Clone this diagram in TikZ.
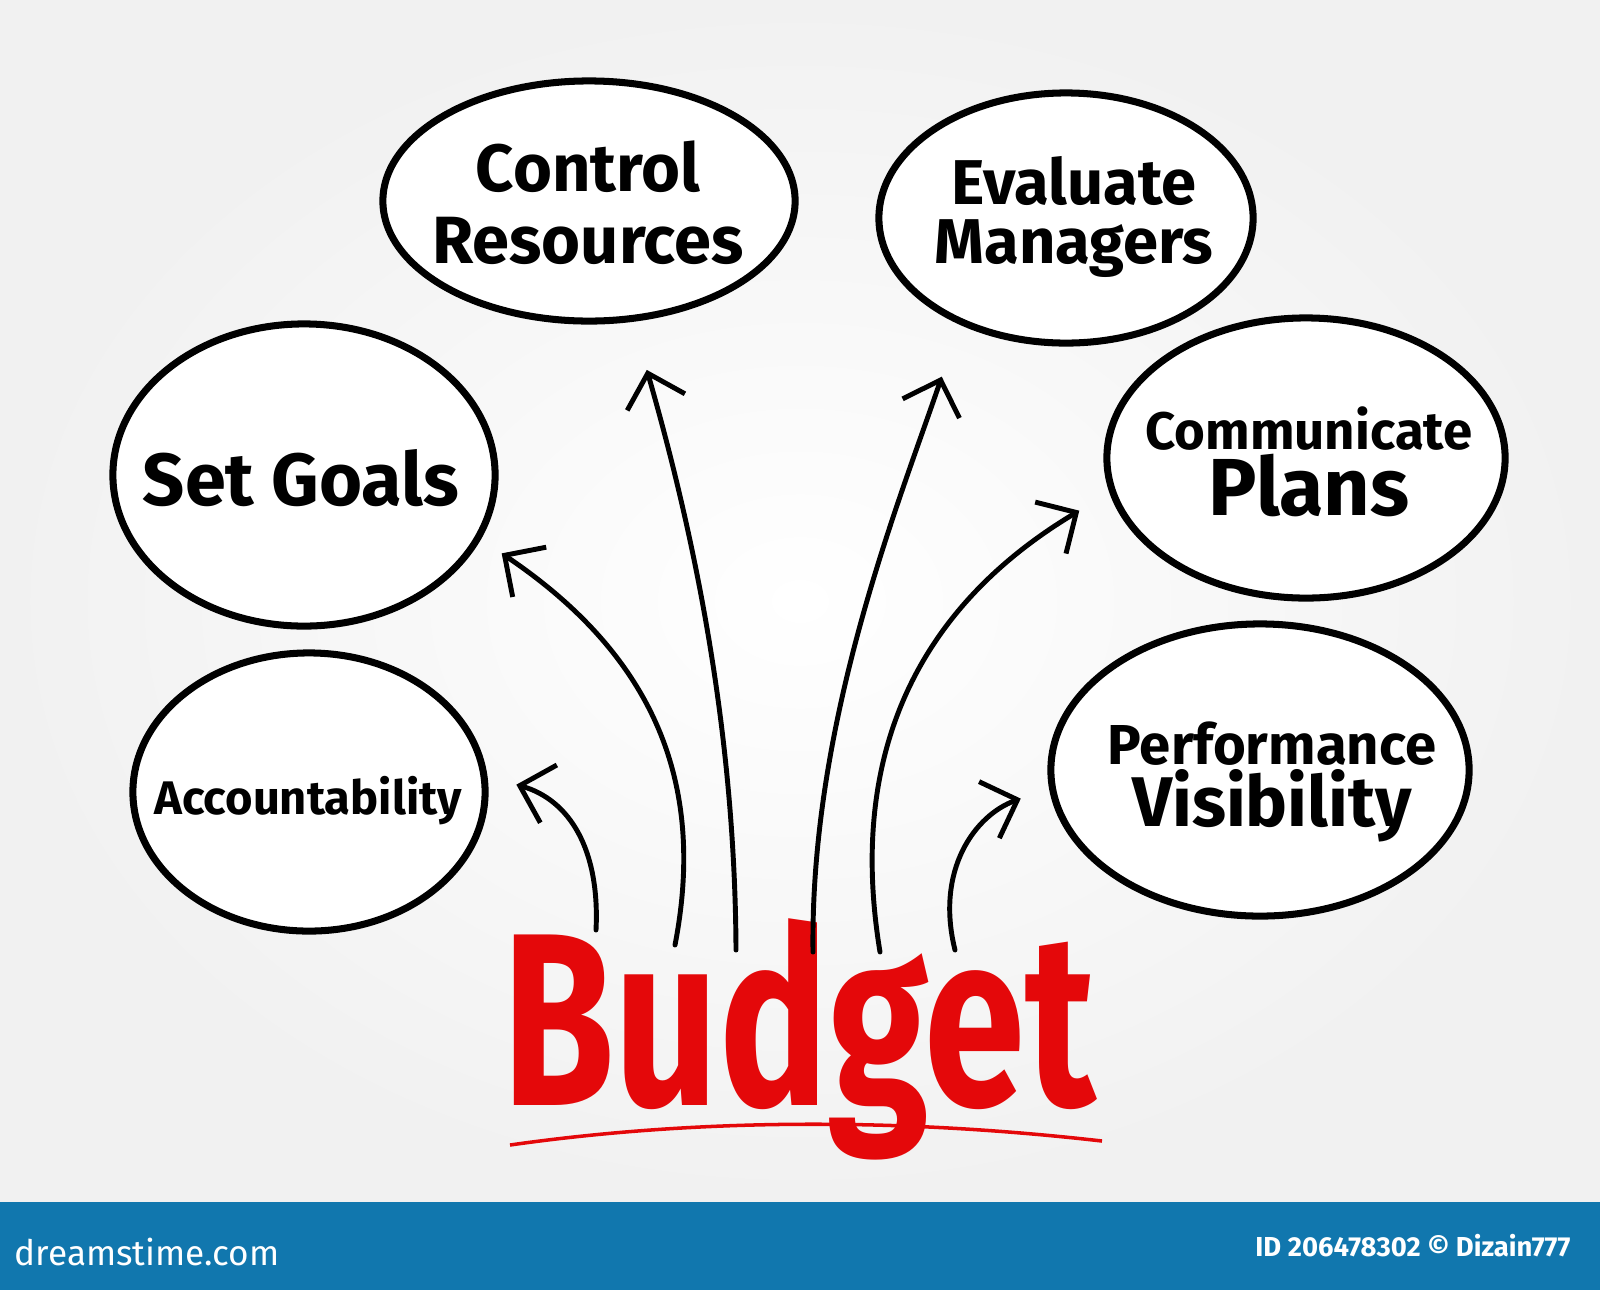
\documentclass[tikz,border=0pt]{standalone}
\usepackage{fontspec}
\setmainfont{Fira Sans}
\usepackage{graphicx}
\usetikzlibrary{arrows.meta,shapes.geometric}
\definecolor{budgetred}{RGB}{228,8,10}
\definecolor{bannerblue}{RGB}{17,119,174}

\begin{document}
\begin{tikzpicture}[x=0.01cm,y=-0.01cm,
  bubble/.style={draw=black,line width=2pt,fill=white,ellipse,inner sep=0pt},
  word/.style={align=center,inner sep=0pt},
  pointer/.style={line width=1.4pt,line cap=round,-{Straight Barb[length=3mm,width=6mm]}}]
  \useasboundingbox (0,0) rectangle (1600,1290);
  \shade[inner color=white,outer color=gray!11] (0,0) rectangle (1600,1202);
  \fill[bannerblue] (0,1202) rectangle (1600,1290);
  % bubbles
  \node[bubble,minimum width=4.12cm,minimum height=2.40cm] (control) at (589,201) {};
  \node[bubble,minimum width=3.74cm,minimum height=2.50cm] (evaluate) at (1066,218) {};
  \node[bubble,minimum width=3.82cm,minimum height=3.02cm] (goals) at (304,475) {};
  \node[bubble,minimum width=3.98cm,minimum height=2.80cm] (plans) at (1306,458) {};
  \node[bubble,minimum width=3.52cm,minimum height=2.78cm] (account) at (309,792) {};
  \node[bubble,minimum width=4.18cm,minimum height=2.92cm] (visib) at (1260,770) {};
  % texts
  \node[word,font=\bfseries\fontsize{19}{20.5}\selectfont] (controltext) at (588,203) {Control\\Resources};
  \node[word,font=\bfseries\fontsize{18}{17}\selectfont] (evaluatetext) at (1074,217) {Evaluate\\Managers};
  \node[word,font=\bfseries\fontsize{21}{21}\selectfont] (goalstext) at (301,478) {Set Goals};
  \node[word,font=\bfseries] (planstext) at (1309,462) {\fontsize{15}{18}\selectfont Communicate\\\fontsize{23}{23}\selectfont Plans};
  \node[word,font=\bfseries\fontsize{13.4}{14}\selectfont] (accounttext) at (308,801) {Accountability};
  \node[word,font=\bfseries] (visibtext) at (1272,782) {\fontsize{16}{18}\selectfont Performance\\\fontsize{20}{19}\selectfont Visibility};
  % centre word
  \draw[budgetred,line width=1pt] (510,1145) .. controls (700,1118) and (900,1118) .. (1102,1141);
  \node[text=budgetred,anchor=base,inner sep=0pt,font=\bfseries\fontsize{70}{70}\selectfont] (budget) at (799,1105) {\scalebox{0.74}[1]{Budget}};
  \path
  (596,930) coordinate (s1)
  (675,945) coordinate (s2)
  (736,950) coordinate (s3)
  (813,952) coordinate (s4)
  (880,952) coordinate (s5)
  (955,950) coordinate (s6)
  ;
  \draw[pointer,shorten >=0.3cm] (s1) .. controls (600,850) and (570,800) .. (account.5);
  \draw[pointer,shorten >=0.25cm] (s2) .. controls (705,790) and (660,660) .. (goals.-20);
  \draw[pointer,shorten >=0.5cm] (s3) .. controls (735,720) and (690,520) .. (control.-70);
  \draw[pointer,shorten >=0.55cm] (s4) .. controls (810,720) and (900,500) .. (evaluate.-135);
  \draw[pointer,shorten >=0.35cm] (s5) .. controls (845,740) and (930,600) .. (plans.-170);
  \draw[pointer,shorten >=0.3cm] (s6) .. controls (935,870) and (975,815) .. (visib.-175);
  % banner
  \node[white,anchor=west,inner sep=0pt,font=\fontsize{10}{10}\selectfont] (site) at (14,1252) {dreamstime.com};
  \node[white,anchor=east,inner sep=0pt,font=\bfseries\fontsize{7.8}{8}\selectfont] (credit) at (1571,1246) {ID 206478302 © Dizain777};
\end{tikzpicture}
\end{document}
